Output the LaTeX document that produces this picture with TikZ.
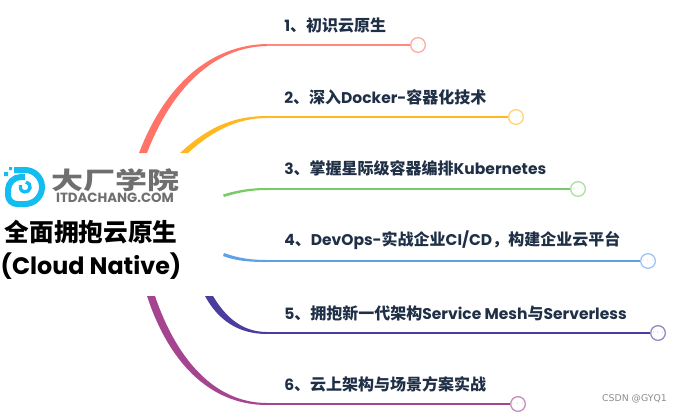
\documentclass[tikz,border=0pt]{standalone}
\usepackage{fontspec}
\setmainfont{Poppins}[Scale=0.97]
\newfontfamily\cjk{Noto Sans CJK SC}
\newfontfamily\wmark{DejaVu Sans}
\newcommand{\zh}[1]{{\cjk\bfseries #1}}
\definecolor{inkdark}{HTML}{1F2F46}
\definecolor{logogray}{HTML}{6F6F6F}
\definecolor{logoblue}{HTML}{14BDF0}
\definecolor{colone}{HTML}{FF7468}
\definecolor{coltwo}{HTML}{FFB81F}
\definecolor{colthree}{HTML}{78CC68}
\definecolor{colfour}{HTML}{5F9FE6}
\definecolor{colfive}{HTML}{4A3DA0}
\definecolor{colsix}{HTML}{A5458F}
\tikzset{
    topic/.style={anchor=west, inner sep=0pt, text=inkdark, font=\bfseries\fontsize{12}{14}\selectfont},
    tip/.style={circle, draw=#1!60, fill=white, line width=1pt, minimum size=11pt, inner sep=0pt, text=#1!70, font=\fontsize{6}{6}\selectfont},
    branch/.style={draw=#1, line width=1.4pt}
}
\begin{document}
\begin{tikzpicture}[x=0.75pt, y=-0.75pt]
    \useasboundingbox (0,0) rectangle (681,414);
    % ends of the branches
    \node[tip=colone] (e1) at (418,45) {$\cdots$};
    \node[tip=coltwo] (e2) at (516,117) {$\cdots$};
    \node[tip=colthree] (e3) at (578,189) {$\cdots$};
    \node[tip=colfour] (e4) at (648,261) {$\cdots$};
    \node[tip=colfive] (e5) at (658,333) {$\cdots$};
    \node[tip=colsix] (e6) at (518,404) {$\cdots$};
    \coordinate (k1) at (267,45);
    \coordinate (k2) at (267,117);
    \coordinate (k3) at (267,189);
    \coordinate (k4) at (267,261);
    \coordinate (k5) at (267,333);
    \coordinate (k6) at (267,404);
    % tapered curves
    \fill[colone] (139,153) .. controls (165,85) and (210,45) .. (267,44) -- (267,46) .. controls (214,47) and (172,88) .. (147,153) -- cycle;
    \fill[coltwo] (180,153) .. controls (205,130) and (230,116) .. (267,116) -- (267,118) .. controls (235,118) and (210,133) .. (188,153) -- cycle;
    \fill[colthree] (223,194.5) .. controls (238,190) and (250,188) .. (267,188) -- (267,190) .. controls (252,190) and (240,192) .. (224,197) -- cycle;
    \fill[colfour] (224,253) .. controls (238,258) and (250,260) .. (267,260) -- (267,262) .. controls (250,262) and (236,261) .. (223,256) -- cycle;
    \fill[colfive] (205,296) .. controls (218,320) and (238,334) .. (267,334) -- (267,332) .. controls (243,332) and (226,318) .. (213,296) -- cycle;
    \fill[colsix] (147,296) .. controls (168,360) and (208,405) .. (267,405) -- (267,403) .. controls (214,403) and (176,358) .. (155,296) -- cycle;
    \draw[branch=colone!85] (k1) -- (e1);
    \draw[branch=coltwo] (k2) -- (e2);
    \draw[branch=colthree] (k3) -- (e3);
    \draw[branch=colfour] (k4) -- (e4);
    \draw[branch=colfive] (k5) -- (e5);
    \draw[branch=colsix] (k6) -- (e6);
    % labels
    \node[topic] (t1) at (284,25) {1\zh{、初识云原生}};
    \node[topic] (t2) at (284,97) {2\zh{、深入}Docker-\zh{容器化技术}};
    \node[topic] (t3) at (284,168) {3\zh{、掌握星际级容器编排}Kubernetes};
    \node[topic] (t4) at (284,240) {4\zh{、}DevOps-\zh{实战企业}CI/CD\zh{，构建企业云平台}};
    \node[topic] (t5) at (284,313) {5\zh{、拥抱新一代架构}Service Mesh\zh{与}Serverless};
    \node[topic] (t6) at (284,384) {6\zh{、云上架构与场景方案实战}};
    % logo
    \draw[logoblue, line width=4.5pt] (14,170) -- (25,170) arc (-90:90:17) -- (17,204) arc (90:180:9) -- (8,190) arc (180:270:13) -- (25,177);
    \draw[logoblue, line width=2.5pt] (26,182) arc (-80:200:5);
    \fill[logoblue] (4,172) rectangle (8,176) (9,167) rectangle (12,170);
    \node[inner sep=0pt, text=logogray] (logo) at (115,180) {\scalebox{1}[0.75]{\fontsize{24}{26}\selectfont\zh{大厂学院}}};
    \node[inner sep=0pt, text=logogray] (site) at (115,198) {\bfseries\fontsize{10.3}{12}\selectfont ITDACHANG.COM};
    \node[inner sep=0pt] (title) at (91,232) {\fontsize{18.5}{22}\selectfont\zh{全面拥抱云原生}};
    \node[inner sep=0pt] (sub) at (91,266) {\bfseries\fontsize{18.4}{22}\selectfont (Cloud Native)};
    \node[inner sep=0pt, text=black!45] (mark) at (634.5,399) {\wmark\fontsize{7}{9}\selectfont CSDN @GYQ1};
\end{tikzpicture}
\end{document}
